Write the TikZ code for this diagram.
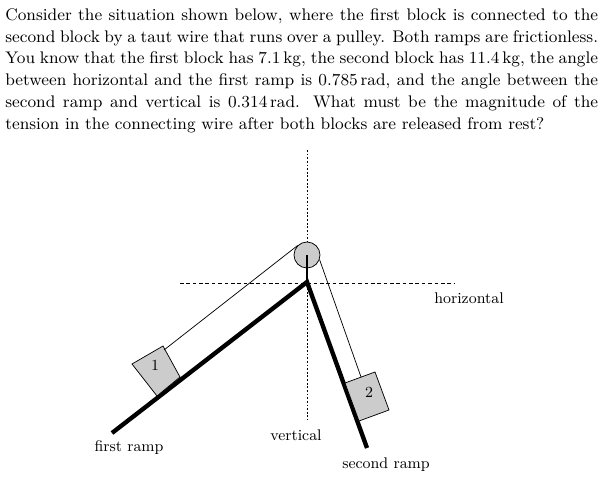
\documentclass[tikz,border=0pt]{standalone}
\begin{document}
\begin{tikzpicture}[x=0.55pt,y=-0.55pt,
  ramp/.style={line width=2.4pt},
  wire/.style={line width=0.4pt},
  blk/.style={fill=black!20,draw=black,line width=0.4pt},
  lbl/.style={font=\fontsize{8.5}{10}\selectfont,inner sep=0pt}]
\useasboundingbox (0,0) rectangle (612,491);
\node[anchor=north west,inner sep=0pt,text width=326pt,align=justify,font=\fontsize{9.25}{12}\selectfont] (txt) at (5,8)
{Consider the situation shown below, where the first block is connected to the second block by a taut wire that runs over a pulley. Both ramps are frictionless. You know that the first block has 7.1\,kg, the second block has 11.4\,kg, the angle between horizontal and the first ramp is 0.785\,rad, and the angle between the second ramp and vertical is 0.314\,rad. What must be the magnitude of the tension in the connecting wire after both blocks are released from rest?};
\coordinate (apex) at (307,282);
\coordinate (e1) at (112,433);
\coordinate (e2) at (367,448);
\coordinate (vt) at (307,150);
\coordinate (vb) at (307,420);
\coordinate (hl) at (180,283);
\coordinate (hr) at (455,283);
\draw[dash pattern=on 1pt off 1pt,line width=0.5pt] (vt) -- (vb);
\draw[dash pattern=on 2pt off 1.5pt,line width=0.4pt] (hl) -- (hr);
\draw[ramp] (e1) -- (apex) -- (e2);
\node[circle,draw,fill=black!20,minimum size=26*0.55pt,inner sep=0pt] (pul) at (307,255) {};
\draw[line width=0.8pt] (pul.center) -- (apex);
\draw[blk] (132,364) -- (163,346) -- (180,377) -- (157,396) -- cycle;
\node[lbl] (b1) at (155,365) {1};
\draw[blk] (345,383) -- (375,372) -- (389,410) -- (359,421) -- cycle;
\node[lbl] (b2) at (369,392) {2};
\coordinate (w1) at (164,350);
\coordinate (w2) at (361,377);
\draw[wire] (w1) -- (pul.135);
\draw[wire] (w2) -- (pul.-20);
\node[lbl] (h) at (469,298) {horizontal};
\node[lbl] (v) at (296,435) {vertical};
\node[lbl] (f) at (129,448) {first ramp};
\node[lbl] (s) at (386,465) {second ramp};
\end{tikzpicture}
\end{document}
